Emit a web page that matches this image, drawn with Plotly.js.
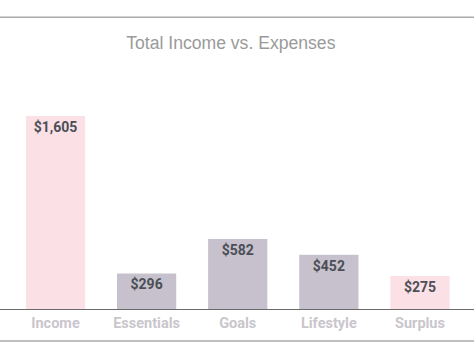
<!DOCTYPE html>
<html><head><meta charset="utf-8">
<script src="https://cdn.plot.ly/plotly-3.0.1.min.js"></script>
<style>html,body{margin:0;padding:0;background:#fff;}#chart{width:474px;height:355px;}</style>
</head><body><div id="chart"></div>
<script>
var categories = ["Income", "Essentials", "Goals", "Lifestyle", "Surplus"];
var values = [1605, 296, 582, 452, 275];
var labels = ["$1,605", "$296", "$582", "$452", "$275"];
var barColors = ["#fbe0e6", "#c7c1cd", "#c7c1cd", "#c7c1cd", "#fbe0e6"];

var trace = {
  type: "bar",
  x: categories,
  y: values,
  text: labels,
  textposition: "inside",
  insidetextanchor: "end",
  textangle: 0,
  textfont: {family: "Roboto, Arial, sans-serif", size: 14, color: "#4b4f56", weight: "bold"},
  marker: {color: barColors},
  hoverinfo: "none",
  cliponaxis: false
};

var layout = {
  width: 474, height: 355,
  margin: {l: 0, r: 0, t: 80, b: 46},
  paper_bgcolor: "#ffffff",
  plot_bgcolor: "#ffffff",
  bargap: 0.35,
  showlegend: false,
  title: {
    text: "Total Income vs. Expenses",
    font: {family: "Liberation Sans, Arial, sans-serif", size: 17.6, color: "#9a9a9a"},
    x: 0.487, xanchor: "center", y: 0.88, yanchor: "middle"
  },
  xaxis: {
    type: "category",
    range: [-0.609, 4.593],
    showgrid: false,
    zeroline: false,
    showline: true,
    linecolor: "#6a6a6a",
    linewidth: 1.3,
    ticks: "",
    tickfont: {family: "Roboto, Arial, sans-serif", size: 14.5, color: "#c9c6cc", weight: "bold"},
    fixedrange: true
  },
  yaxis: {
    range: [0, 1905],
    visible: false,
    showgrid: false,
    zeroline: false,
    fixedrange: true
  },
  shapes: [
    {type: "line", xref: "paper", yref: "paper", x0: 0, x1: 1, y0: 1.274, y1: 1.274,
     line: {color: "#aaaaaa", width: 1.5}},
    {type: "line", xref: "paper", yref: "paper", x0: 0, x1: 1, y0: -0.14, y1: -0.14,
     line: {color: "#aaaaaa", width: 1.5}}
  ]
};

Plotly.newPlot("chart", [trace], layout, {displayModeBar: false, staticPlot: true});
</script></body></html>
